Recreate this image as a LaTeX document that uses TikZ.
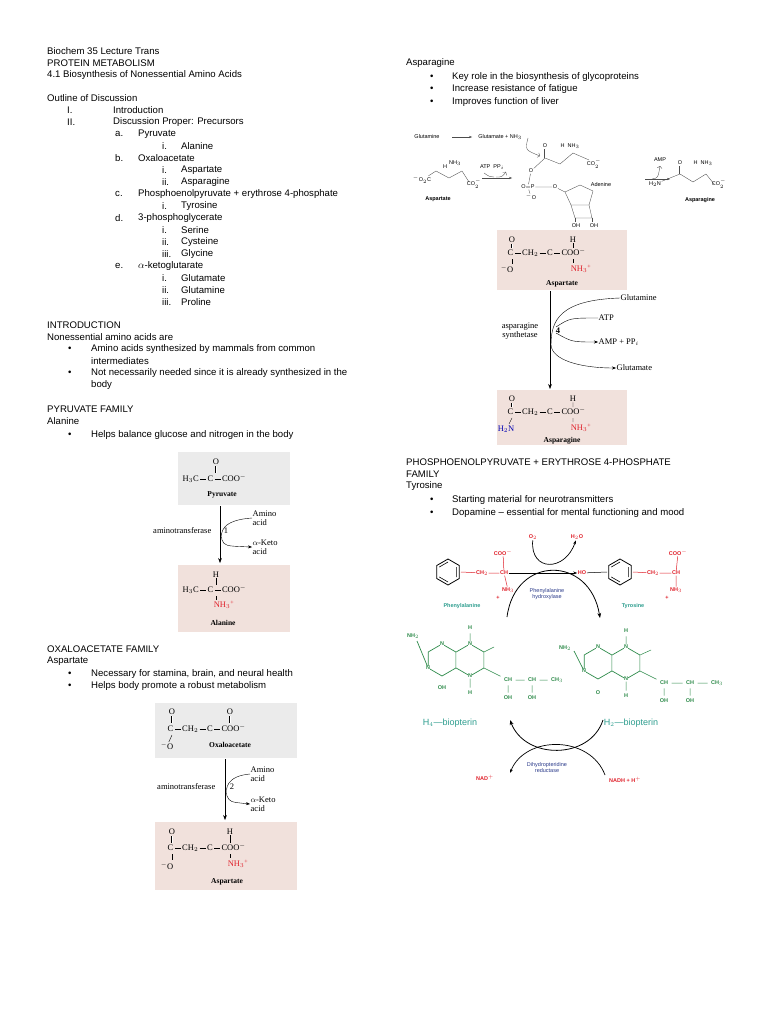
\documentclass[tikz,border=0pt]{standalone}
\usepackage{fontspec}
\setmainfont{Liberation Sans}
\newfontfamily\chemfont{Liberation Serif}
\usetikzlibrary{arrows.meta}
\definecolor{chemred}{HTML}{E0202A}
\definecolor{teal2}{HTML}{2E9E8F}
\definecolor{pgreen}{HTML}{2E8B4A}
\definecolor{navy2}{HTML}{2A3A8A}
\definecolor{boxgray}{HTML}{EBEBEB}
\definecolor{boxpink}{HTML}{F1E1DC}
\tikzset{
  txt/.style={anchor=west,inner sep=0pt,font=\fontsize{9.6}{10}\selectfont},
  chem/.style={inner sep=0.5pt,font=\chemfont\fontsize{8.5}{9}\selectfont},
  chemb/.style={inner sep=0pt,font=\chemfont\bfseries\fontsize{7.5}{9}\selectfont},
  small/.style={inner sep=0.5pt,font=\fontsize{5.5}{6}\selectfont},
  smallb/.style={inner sep=0.5pt,font=\bfseries\fontsize{5.5}{6}\selectfont},
  arrow/.style={-{Stealth[length=5pt]},line width=0.5pt},
  bond/.style={line width=0.4pt},
}
\newcommand{\bul}{\textbullet}
\newcommand{\bd}{\,\rule[0.55ex]{6pt}{0.4pt}\,}
\newcommand{\nhp}{NH$_3$\textsuperscript{+}}
\begin{document}
\begin{tikzpicture}[x=1pt,y=-1pt]
\useasboundingbox (0,0) rectangle (768,1024);
\fill[white] (0,0) rectangle (768,1024);
% left column text
\foreach \x/\y/\t [count=\i] in {
  47/51/Biochem 35 Lecture Trans, 47/63/PROTEIN METABOLISM,
  47/75/4.1 Biosynthesis of Nonessential Amino Acids,
  47/98/Outline of Discussion, 67/110/I., 113/110/Introduction,
  67/122/II., 113/122/Discussion Proper: Precursors,
  115/134/a., 138/134/Pyruvate, 162/146/i., 181/146/Alanine,
  115/158/b., 138/158/Oxaloacetate, 162/170/i., 181/170/Aspartate,
  162/182/ii., 181/182/Asparagine,
  115/194/c., 138/194/Phosphoenolpyruvate + erythrose 4-phosphate,
  162/206/i., 181/206/Tyrosine,
  115/218/d., 138/218/3-phosphoglycerate, 162/230/i., 181/230/Serine,
  162/242/ii., 181/242/Cysteine, 162/254/iii., 181/254/Glycine,
  115/266/e., 138/266/$\alpha$-ketoglutarate, 162/278/i., 181/278/Glutamate,
  162/290/ii., 181/290/Glutamine, 162/302/iii., 181/302/Proline,
  47/325/INTRODUCTION, 47/337/Nonessential amino acids are,
  68/349/\bul, 91/349/Amino acids synthesized by mammals from common,
  91/361/intermediates,
  68/373/\bul, 91/373/Not necessarily needed since it is already synthesized in the,
  91/385/body,
  47/409/PYRUVATE FAMILY, 47/421/Alanine,
  68/435/\bul, 91/435/Helps balance glucose and nitrogen in the body,
  47/649/OXALOACETATE FAMILY, 47/661/Aspartate,
  68/674/\bul, 91/674/{Necessary for stamina, brain, and neural health},
  68/686/\bul, 91/686/Helps body promote a robust metabolism,
  406/63/Asparagine,
  430/77/\bul, 452/77/Key role in the biosynthesis of glycoproteins,
  430/89/\bul, 452/89/Increase resistance of fatigue,
  430/102/\bul, 452/102/Improves function of liver,
  406/462/PHOSPHOENOLPYRUVATE + ERYTHROSE 4-PHOSPHATE,
  406/474/FAMILY, 406/486/Tyrosine,
  430/500/\bul, 452/500/Starting material for neurotransmitters,
  430/513/\bul, 452/513/Dopamine -- essential for mental functioning and mood}
  \node[txt] (ln\i) at (\x,\y) {\t};

% pyruvate -> alanine
\fill[boxgray] (178,452) rectangle (290,505);
\node[chem] (pyo) at (216,462) {O};
\node[chem,anchor=west] (pyrow) at (182,479) {H$_3$C\bd C\bd COO$^-$};
\draw[bond,double,double distance=1pt] (pyo) -- (216,473);
\node[chemb] (pyname) at (222,495) {Pyruvate};
\coordinate (a1s) at (220,506);
\coordinate (a1e) at (220,563);
\draw[arrow] (a1s) -- (a1e);
\node[chem,anchor=west,align=left] (aa1) at (252,518) {Amino\\acid};
\node[chem,anchor=west,align=left] (ka1) at (252,547) {$\alpha$-Keto\\acid};
\draw[bond,-{Stealth[length=4pt]}] (aa1.west) .. controls (222,520) and (220,532) .. (222,540) .. controls (225,546) .. (ka1.west);
\node[chem,anchor=east] (enz1) at (212,531) {aminotransferase};
\node[chem] (n1) at (226,531) {1};
\fill[boxpink] (178,565) rectangle (290,632);
\node[chem] (alh) at (216,575) {H};
\node[chem,anchor=west] (alrow) at (182,590) {H$_3$C\bd C\bd COO$^-$};
\draw[bond] (alh) -- (216,585) (216,596) -- (216,600);
\node[chem,text=chemred] (alnh) at (224,605) {\nhp};
\node[chemb] (alname) at (223,623) {Alanine};

% oxaloacetate -> aspartate
\fill[boxgray] (155,703) rectangle (297,758);
\node[chem] (oxo1) at (172,712) {O};
\node[chem] (oxo2) at (230,712) {O};
\node[chem,anchor=west] (oxrow) at (167,729) {C\bd CH$_2$\bd C\bd COO$^-$};
\draw[bond,double,double distance=1pt] (oxo1) -- (172,723) (oxo2) -- (230,723);
\node[chem] (oxom) at (167,746) {$^-$O};
\draw[bond] (172,735) -- (oxom);
\node[chemb] (oxname) at (230,745) {Oxaloacetate};
\coordinate (a2s) at (225,759);
\coordinate (a2e) at (225,820);
\draw[arrow] (a2s) -- (a2e);
\node[chem,anchor=west,align=left] (aa2) at (250,774) {Amino\\acid};
\node[chem,anchor=west,align=left] (ka2) at (250,804) {$\alpha$-Keto\\acid};
\draw[bond,-{Stealth[length=4pt]}] (aa2.west) .. controls (227,776) and (225,788) .. (227,796) .. controls (230,802) .. (ka2.west);
\node[chem,anchor=east] (enz2) at (216,787) {aminotransferase};
\node[chem] (n2) at (232,787) {2};
\fill[boxpink] (155,822) rectangle (297,890);
\node[chem] (aspo) at (172,832) {O};
\node[chem] (asph) at (230,832) {H};
\node[chem,anchor=west] (asprow) at (167,848) {C\bd CH$_2$\bd C\bd COO$^-$};
\draw[bond,double,double distance=1pt] (aspo) -- (172,843);
\draw[bond] (asph) -- (230,843) (230,854) -- (230,858) (172,854) -- (172,860);
\node[chem] (aspom) at (167,866) {$^-$O};
\node[chem,text=chemred] (aspnh) at (238,864) {\nhp};
\node[chemb] (aspname) at (227,882) {Aspartate};

% asparagine synthesis scheme
\begin{scope}[bond/.style={line width=0.35pt,black!70}]
\node[small] (gln) at (427,137) {Glutamine};
\node[small] (glu) at (500,137) {Glutamate + NH$_3$};
\draw[bond,-{Stealth[length=3pt]}] (452,137) -- (472,137);
\node[small] (asp1) at (422,180) {$^-$O$_2$C};
\draw[bond] (asp1) -- (436,171) -- (449,178) -- (462,171) -- (469,182);
\node[small] (asph1) at (445,167) {H};
\node[small] (aspn1) at (455,163) {NH$_3$};
\node[small] (aspc1) at (474,184) {CO$_2^-$};
\node[smallb] (aspl1) at (438,199) {Aspartate};
\node[small] (atp) at (492,167) {ATP\;\;PP$_i$};
\coordinate (r1s) at (482,178);
\coordinate (r1e) at (512,178);
\draw[bond,-{Stealth[length=3pt]}] (r1s) -- (r1e);
\draw[bond] (484,173) .. controls (490,177) .. (494,177);
\draw[bond,->] (496,177) .. controls (502,177) .. (506,172);
% acyl adenylate
\node[small] (po) at (528,187) {O$=$P};
\node[small] (pom) at (531,197) {$^-$O};
\node[small] (po1) at (531,171) {O};
\node[small] (po2) at (555,187) {O};
\draw[bond] (po1) -- (po) (po) -- (po2) (po) -- (pom);
\draw[bond] (po1) -- (545,158) -- (560,164) -- (573,153) -- (589,160);
\node[small] (oac) at (545,146) {O};
\draw[bond,double,double distance=0.8pt] (oac) -- (545,158);
\node[small] (hn2) at (570,146) {H\;\;NH$_3$};
\node[small] (co2b) at (594,164) {CO$_2^-$};
\draw[bond,->] (528,138) .. controls (525,150) .. (540,156);
\node[small] (aden) at (601,185) {Adenine};
\draw[bond] (po2) -- (565,192) -- (571,205) -- (589,205) -- (593,191) -- (580,185) -- (565,192);
\draw[bond] (571,205) -- (575,218) -- (592,218) -- (589,205);
\draw[bond] (575,218) -- (575,222) (592,218) -- (592,222);
\node[small] (oh1) at (576,226) {OH};
\node[small] (oh2) at (594,226) {OH};
\coordinate (r2s) at (645,179);
\coordinate (r2e) at (670,179);
\draw[bond,-{Stealth[length=3pt]}] (r2s) -- (r2e);
\node[small] (amp) at (660,160) {AMP};
\draw[bond,->] (652,179) .. controls (658,178) .. (660,166);
\node[small] (h2n) at (655,184) {H$_2$N};
\draw[bond] (h2n) -- (680,174) -- (693,182) -- (706,174) -- (714,184);
\node[small] (asno) at (680,163) {O};
\draw[bond,double,double distance=0.8pt] (asno) -- (680,174);
\node[small] (asnh) at (703,163) {H\;\;NH$_3$};
\node[small] (asnc) at (719,184) {CO$_2^-$};
\node[smallb] (asnl) at (700,200) {Asparagine};
\end{scope}

\fill[boxpink] (497,230) rectangle (627,290);
\node[chem] (bo1) at (512,240) {O};
\node[chem] (bh1) at (573,240) {H};
\node[chem,anchor=west] (brow1) at (507,253) {C\bd CH$_2$\bd C\bd COO$^-$};
\draw[bond,double,double distance=1pt] (bo1) -- (512,248);
\draw[bond] (bh1) -- (573,248) (573,259) -- (573,263) (512,259) -- (512,264);
\node[chem] (bom1) at (507,269) {$^-$O};
\node[chem,text=chemred] (bnh1) at (581,269) {\nhp};
\node[chemb] (bname1) at (562,284) {Aspartate};
\coordinate (a4s) at (550,291);
\coordinate (a4e) at (550,389);
\draw[arrow] (a4s) -- (a4e);
\node[chem,anchor=west] (gln4) at (620,298) {Glutamine};
\node[chem,anchor=west] (atp4) at (598,318) {ATP};
\node[chem,anchor=west] (amp4) at (598,342) {AMP + PP$_i$};
\node[chem,anchor=west] (glu4) at (616,368) {Glutamate};
\draw[bond] (gln4.west) .. controls (560,300) and (551,320) .. (551,345);
\draw[bond] (atp4.west) .. controls (570,318) .. (556,327);
\draw[bond,-{Stealth[length=4pt]}] (556,333) .. controls (572,342) .. (amp4.west);
\draw[bond,-{Stealth[length=4pt]}] (551,345) .. controls (552,360) and (580,368) .. (glu4.west);
\node[chem] (n4) at (558,331) {\bfseries 4};
\node[chem,align=center] (enz4) at (520,331) {asparagine\\synthetase};
\fill[boxpink] (497,390) rectangle (627,445);
\node[chem] (bo2) at (512,399) {O};
\node[chem] (bh2) at (573,399) {H};
\node[chem,anchor=west] (brow2) at (507,412) {C\bd CH$_2$\bd C\bd COO$^-$};
\draw[bond,double,double distance=1pt] (bo2) -- (512,407);
\draw[bond] (bh2) -- (573,407) (573,418) -- (573,422) (512,418) -- (509,424);
\node[chem,text=blue!70!black] (bn2) at (506,429) {H$_2$N};
\node[chem,text=chemred] (bnh2) at (581,428) {\nhp};
\node[chemb] (bname2) at (562,441) {Asparagine};

% phenylalanine -> tyrosine
\begin{scope}[font=\bfseries\fontsize{5.5}{6}\selectfont]
\draw[line width=0.8pt] (448,572) +(90:13) -- +(30:13) -- +(-30:13) -- +(-90:13) -- +(-150:13) -- +(150:13) -- cycle;
\draw[line width=0.6pt] (448,572) +(30:10) -- +(-30:10) +(-90:10) -- +(-150:10) +(150:10) -- +(90:10);
\draw[line width=0.8pt] (620,572) +(90:13) -- +(30:13) -- +(-30:13) -- +(-90:13) -- +(-150:13) -- +(150:13) -- cycle;
\draw[line width=0.6pt] (620,572) +(30:10) -- +(-30:10) +(-90:10) -- +(-150:10) +(150:10) -- +(90:10);
\node[text=chemred,inner sep=0.5pt] (pch2) at (482,573) {CH$_2$};
\node[text=chemred,inner sep=0.5pt] (pch) at (504,573) {CH};
\node[text=chemred,inner sep=0.5pt] (pcoo) at (503,553) {COO$^-$};
\node[text=chemred,inner sep=0.5pt] (pnh) at (508,590) {NH$_3$};
\node[text=chemred] (pplus) at (498,598) {+};
\draw[chemred,line width=0.5pt] (461,572) -- (pch2) -- (pch) (pch) -- (pcoo) (pch) -- (pnh);
\node[text=teal2] (pname) at (462,606) {Phenylalanine};
\node[text=chemred,inner sep=0.5pt] (tho) at (582,573) {HO};
\node[text=chemred,inner sep=0.5pt] (tch2) at (653,573) {CH$_2$};
\node[text=chemred,inner sep=0.5pt] (tch) at (676,573) {CH};
\node[text=chemred,inner sep=0.5pt] (tcoo) at (678,553) {COO$^-$};
\node[text=chemred,inner sep=0.5pt] (tnh) at (676,590) {NH$_3$};
\node[text=chemred] (tplus) at (667,598) {+};
\draw[chemred,line width=0.5pt] (633,572) -- (tch2) -- (tch) (tch) -- (tcoo) (tch) -- (tnh);
\draw[line width=0.5pt] (tho) -- (607,572);
\node[text=teal2] (tname) at (633,606) {Tyrosine};
\draw[-{Stealth[length=4pt]},line width=0.6pt] (pch) -- (tho);
\node[text=chemred,inner sep=0.5pt] (o2) at (533,537) {O$_2$};
\node[text=chemred,inner sep=0.5pt] (h2o) at (577,537) {H$_2$O};
\draw[-{Stealth[length=4pt]},line width=0.7pt] (o2) .. controls (530,572) and (565,572) .. (h2o);
\node[text=navy2,font=\fontsize{5.5}{6}\selectfont,align=center] (phe) at (547,594) {Phenylalanine\\hydroxylase};
\coordinate (top1) at (507,617);
\coordinate (top2) at (600,618);
\draw[-{Stealth[length=5pt]},line width=0.8pt] (top1) .. controls (515,555) and (590,555) .. (top2);
\end{scope}

% biopterins
\begin{scope}[text=pgreen,font=\bfseries\fontsize{5.5}{6}\selectfont]
\draw[pgreen,line width=0.7pt] (442,660) +(90:16) -- +(30:16) -- +(-30:16) -- +(-90:16) -- +(-150:16) -- +(150:16) -- cycle;
\draw[pgreen,line width=0.7pt] (470,660) +(150:16) -- +(90:16) -- +(30:16) -- +(-30:16) -- +(-90:16) -- +(-150:16);
\draw[pgreen,line width=0.7pt] (442,660) +(150:16) -- (417,641);
\node (l1) at (413,636) {NH$_2$};
\node[fill=white,inner sep=0.5pt] (l2) at (442,644) {N};
\node[fill=white,inner sep=0.5pt] (l3) at (428,668) {N};
\node[fill=white,inner sep=0.5pt] (l4) at (470,644) {N};
\node[fill=white,inner sep=0.5pt] (l5) at (470,676) {N};
\node (l6) at (470,628) {H};
\node (l7) at (470,693) {H};
\node (l8) at (442,688) {OH};
\node (l9) at (508,680) {CH};
\node (l10) at (532,680) {CH};
\node (l11) at (557,680) {CH$_3$};
\node (l12) at (508,698) {OH};
\node (l13) at (532,698) {OH};
\draw[pgreen,line width=0.5pt] (l6) -- (l4) (l5) -- (l7) (484,668) -- (l9) -- (l10) -- (l11) (l9) -- (l12) (l10) -- (l13) (484,652) -- (494,647);
\node[font=\fontsize{9}{10}\selectfont,text=teal2] (l14) at (450,723) {H$_4$---biopterin};
\draw[pgreen,line width=0.7pt] (598,663) +(90:16) -- +(30:16) -- +(-30:16) -- +(-90:16) -- +(-150:16) -- +(150:16) -- cycle;
\draw[pgreen,line width=0.7pt] (626,663) +(150:16) -- +(90:16) -- +(30:16) -- +(-30:16) -- +(-90:16) -- +(-150:16);
\draw[pgreen,line width=0.7pt] (598,663) +(150:16) -- (574,651);
\node (r1) at (565,648) {NH$_2$};
\node[fill=white,inner sep=0.5pt] (r2) at (598,647) {N};
\node[fill=white,inner sep=0.5pt] (r3) at (584,671) {N};
\node[fill=white,inner sep=0.5pt] (r4) at (626,647) {N};
\node[fill=white,inner sep=0.5pt] (r5) at (626,679) {N};
\node (r6) at (626,631) {H};
\node (r7) at (626,696) {H};
\node (r8) at (598,693) {O};
\node (r9) at (664,683) {CH};
\node (r10) at (690,683) {CH};
\node (r11) at (717,683) {CH$_3$};
\node (r12) at (664,701) {OH};
\node (r13) at (690,701) {OH};
\draw[pgreen,line width=0.5pt] (r6) -- (r4) (r5) -- (r7) (640,671) -- (r9) -- (r10) -- (r11) (r9) -- (r12) (r10) -- (r13) (640,655) -- (651,650);
\node[font=\fontsize{9}{10}\selectfont,text=teal2] (r14) at (631,723) {H$_2$---biopterin};
\end{scope}
\coordinate (bot1) at (603,720);
\coordinate (bot2) at (510,720);
\draw[-{Stealth[length=5pt]},line width=0.8pt] (bot1) .. controls (590,760) and (525,760) .. (bot2);
\node[text=chemred,font=\bfseries\fontsize{5.5}{6}\selectfont] (nadh) at (625,780) {NADH + H$^+$};
\node[text=chemred,font=\bfseries\fontsize{5.5}{6}\selectfont] (nad) at (485,778) {NAD$^+$};
\draw[-{Stealth[length=4pt]},line width=0.7pt] (605,775) .. controls (590,735) and (525,735) .. (510,773);
\node[text=navy2,font=\fontsize{5.5}{6}\selectfont,align=center] (dhr) at (547,768) {Dihydropteridine\\reductase};
\end{tikzpicture}
\end{document}
